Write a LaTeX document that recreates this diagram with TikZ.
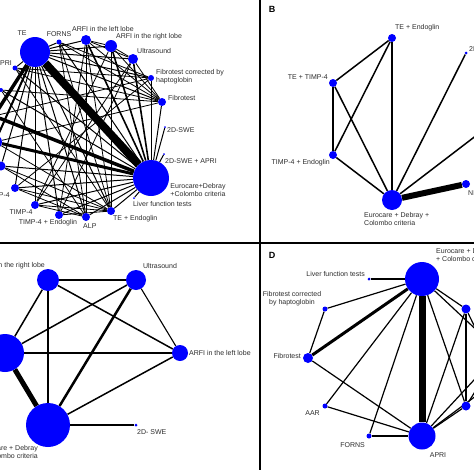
\documentclass[tikz,border=0pt]{standalone}
\usepackage{fontspec}
\setmainfont{Liberation Sans}
\usepackage{xcolor}
\usetikzlibrary{backgrounds}
\definecolor{netblue}{RGB}{0, 0, 255}
\definecolor{netgray}{RGB}{45, 45, 45}

\begin{document}
\begin{tikzpicture}[x=1pt, y=-1pt,
  trt/.style={circle, fill=netblue, inner sep=0pt, minimum size=#1},
  lbl/.style={font=\fontsize{7}{8}\selectfont, text=netgray, inner sep=0pt},
  tag/.style={font=\fontsize{9}{10}\selectfont\bfseries, inner sep=0pt},
  cmp/.style={line width=#1},
  cmp/.default=1pt]
\useasboundingbox (0,0) rectangle (474,474);

% Panel frame
\coordinate (vTop) at (260,0);
\coordinate (vBot) at (260,470);
\coordinate (hLeft) at (0,243);
\coordinate (hRight) at (474,243);
\draw[line width=1.5pt] (vTop) -- (vBot);
\draw[line width=1.5pt] (hLeft) -- (hRight);

% Panel A: treatments on a circle
\node[trt=30pt] (aTE) at (35,52) {};
\node[trt=5pt] (aFORNS) at (59,42) {};
\node[trt=10pt] (aARFIl) at (86,40) {};
\node[trt=12pt] (aARFIr) at (111,46) {};
\node[trt=10pt] (aUS) at (133,59) {};
\node[trt=6pt] (aFtH) at (151,78) {};
\node[trt=8pt] (aFt) at (162,102) {};
\node[trt=2pt] (aSWE) at (165,127) {};
\node[trt=2pt] (aSWEA) at (164,154) {};
\node[trt=36pt] (aEC) at (151,178) {};
\node[trt=2pt] (aLFT) at (134,198) {};
\node[trt=8pt] (aTEE) at (111,211) {};
\node[trt=8pt] (aALP) at (86,217) {};
\node[trt=8pt] (aTIE) at (59,215) {};
\node[trt=8pt] (aTIMP) at (35,205) {};
\node[trt=8pt] (aTET) at (15,188) {};
\node[trt=9pt] (aL1) at (1,166) {};
\node[trt=14pt] (aL2) at (-5,142) {};
\node[trt=12pt] (aL3) at (-6,116) {};
\node[trt=4pt] (aL4) at (1,90) {};
\node[trt=5pt] (aAPRI) at (15,68) {};

\node[lbl] (aTEL) at (22,33) {TE};
\node[lbl] (aFORNSL) at (59,34) {FORNS};
\node[lbl, anchor=west] (aARFIlL) at (72,29) {ARFI in the left lobe};
\node[lbl, anchor=west] (aARFIrL) at (116,37) {ARFI in the right lobe};
\node[lbl, anchor=west] (aUSL) at (137,51) {Ultrasound};
\node[lbl, anchor=west, align=left] (aFtHL) at (156,77) {Fibrotest corrected by\\haptoglobin};
\node[lbl, anchor=west] (aFtL) at (168,98) {Fibrotest};
\node[lbl, anchor=west] (aSWEL) at (167,130) {2D-SWE};
\node[lbl, anchor=west] (aSWEAL) at (165,161) {2D-SWE + APRI};
\node[lbl, align=center] (aECL) at (198,190) {Eurocare+Debray\\+Colombo criteria};
\node[lbl, anchor=west] (aLFTL) at (133,204) {Liver function tests};
\node[lbl, anchor=west] (aTEEL) at (113,219) {TE + Endoglin};
\node[lbl, anchor=west] (aALPL) at (83,226) {ALP};
\node[lbl] (aTIEL) at (48,223) {TIMP-4 + Endoglin};
\node[lbl] (aTIMPL) at (21,212) {TIMP-4};
\node[lbl, anchor=east] (aTETL) at (10,195) {TE + TIMP-4};
\node[lbl, anchor=east] (aAPRIL) at (12,63) {APRI};

% Panel B
\node[tag] (bTag) at (272,9) {B};
\node[trt=8pt] (bTEE) at (392,38) {};
\node[trt=8pt] (bTET) at (333,83) {};
\node[trt=8pt] (bTIE) at (333,155) {};
\node[trt=20pt] (bEC) at (392,200) {};
\node[trt=3pt] (bSWE) at (466,53) {};
\node[trt=8pt] (bN) at (466,184) {};
\node[trt=8pt] (bR) at (490,125) {};

\node[lbl, anchor=west] (bTEEL) at (395,28) {TE + Endoglin};
\node[lbl, anchor=east] (bTETL) at (328,77) {TE + TIMP-4};
\node[lbl, anchor=east] (bTIEL) at (330,163) {TIMP-4 + Endoglin};
\node[lbl, anchor=north west, align=left] (bECL) at (364,212) {Eurocare + Debray +\\Colombo criteria};
\node[lbl, anchor=west] (bSWEL) at (469,49) {2D-SWE};
\node[lbl, anchor=west] (bNL) at (468,193) {NFS};

% Panel C
\node[trt=22pt] (cARFIr) at (48,280) {};
\node[trt=20pt] (cUS) at (136,280) {};
\node[trt=16pt] (cARFIl) at (180,353) {};
\node[trt=38pt] (cTE) at (5,353) {};
\node[trt=44pt] (cEC) at (48,425) {};
\node[trt=3pt] (cSWE) at (136,425) {};

\node[lbl, anchor=east] (cARFIrL) at (45,266) {ARFI in the right lobe};
\node[lbl] (cUSL) at (160,266) {Ultrasound};
\node[lbl, anchor=west] (cARFIlL) at (189,353) {ARFI in the left lobe};
\node[lbl, anchor=north east, align=right] (cECL) at (38,445) {Eurocare + Debray\\+ Colombo criteria};
\node[lbl, anchor=west] (cSWEL) at (137,432) {2D- SWE};

% Panel D
\node[tag] (dTag) at (272,255) {D};
\node[trt=34pt] (dEC) at (422,279) {};
\node[trt=3pt] (dLFT) at (369,279) {};
\node[trt=5pt] (dFtH) at (325,309) {};
\node[trt=10pt] (dFt) at (308,358) {};
\node[trt=5pt] (dAAR) at (325,406) {};
\node[trt=5pt] (dFORNS) at (369,436) {};
\node[trt=27pt] (dAPRI) at (422,436) {};
\node[trt=9pt] (dR1) at (466,309) {};
\node[trt=9pt] (dR2) at (466,406) {};
\node[trt=9pt] (dR3) at (500,352) {};
\node[trt=9pt] (dR4) at (500,378) {};

\node[lbl, anchor=north west, align=left] (dECL) at (436,248) {Eurocare + Debray\\+ Colombo criteria};
\node[lbl, anchor=east] (dLFTL) at (365,274) {Liver function tests};
\node[lbl, align=center] (dFtHL) at (292,299) {Fibrotest corrected\\by haptoglobin};
\node[lbl, anchor=east] (dFtL) at (301,356) {Fibrotest};
\node[lbl, anchor=east] (dAARL) at (320,413) {AAR};
\node[lbl, anchor=east] (dFORNSL) at (365,445) {FORNS};
\node[lbl] (dAPRIL) at (438,455) {APRI};

\begin{scope}[on background layer]
\fill[white] (0,0) rectangle (474,474);
% Panel A comparisons
\draw[cmp=8pt] (aTE) -- (aEC);
\draw[cmp=3.5pt] (aL3) -- (aEC);
\draw[cmp=3pt] (aL2) -- (aEC);
\draw[cmp=3.5pt] (aTE) -- (aL3);
\draw[cmp=2pt] (aTE) -- (aL2);
\foreach \t in {aARFIl,aARFIr,aUS}
  \draw[cmp=1.6pt] (aEC) -- (\t);
\foreach \t in {aFORNS,aFtH,aFt,aSWE,aSWEA,aLFT,aTEE,aALP,aTIE,aTIMP,aTET,aL1,aL4,aAPRI}
  \draw[cmp] (aEC) -- (\t);
\foreach \t in {aFORNS,aARFIl,aARFIr,aUS,aFtH,aFt,aTEE,aALP,aTIE,aTIMP,aTET,aL1,aAPRI}
  \draw[cmp] (aTE) -- (\t);
\foreach \s/\t in {aARFIl/aARFIr,aARFIr/aUS,aARFIl/aUS,aARFIl/aFt,aARFIr/aFt,aUS/aFt,
    aFORNS/aFt,aFORNS/aFtH,aAPRI/aFt,aAPRI/aFtH,aL4/aFt,aARFIl/aALP,aARFIr/aTEE,
    aARFIl/aTIE,aUS/aTIMP,aFtH/aTET,aFt/aL2,aFORNS/aTEE,aTET/aTEE,aTIMP/aTEE,
    aTIE/aTEE,aTET/aALP,aL1/aTEE,aL1/aALP,aTIMP/aALP,aL2/aTEE,aARFIr/aTIMP,
    aUS/aTIE,aFORNS/aALP,aARFIl/aTEE,aAPRI/aTEE,aL4/aALP,aL3/aFtH}
  \draw[cmp=0.8pt] (\s) -- (\t);
% Panel B comparisons
\foreach \s/\t in {bTEE/bTET,bTEE/bTIE,bTEE/bEC,bTET/bEC,bTIE/bEC,bEC/bSWE,bEC/bR}
  \draw[cmp=1.5pt] (\s) -- (\t);
\draw[cmp=1.8pt] (bTET) -- (bTIE);
\draw[cmp=6pt] (bEC) -- (bN);
% Panel C comparisons
\draw[cmp=5pt] (cTE) -- (cEC);
\draw[cmp=2.5pt] (cUS) -- (cEC);
\draw[cmp=2pt] (cARFIr) -- (cEC);
\foreach \s/\t in {cARFIr/cTE,cARFIr/cARFIl,cUS/cTE,cTE/cARFIl,cEC/cARFIl}
  \draw[cmp=1.5pt] (\s) -- (\t);
\foreach \s/\t in {cARFIr/cUS,cUS/cARFIl,cEC/cSWE}
  \draw[cmp=1.1pt] (\s) -- (\t);
% Panel D comparisons
\draw[cmp=7pt] (dEC) -- (dAPRI);
\draw[cmp=3pt] (dEC) -- (dFt);
\draw[cmp=1.5pt] (dEC) -- (dLFT);
\draw[cmp=1.5pt] (dFORNS) -- (dAPRI);
\foreach \s/\t in {dEC/dFtH,dEC/dAAR,dEC/dFORNS,dEC/dR1,dEC/dR2,dEC/dR3,dFtH/dFt,
    dFt/dAPRI,dAAR/dAPRI,dAPRI/dR1,dAPRI/dR2,dAPRI/dR3,dAPRI/dR4,dR1/dR2,dR1/dR4,dR2/dR3}
  \draw[cmp=1.2pt] (\s) -- (\t);
\end{scope}
\end{tikzpicture}
\end{document}
